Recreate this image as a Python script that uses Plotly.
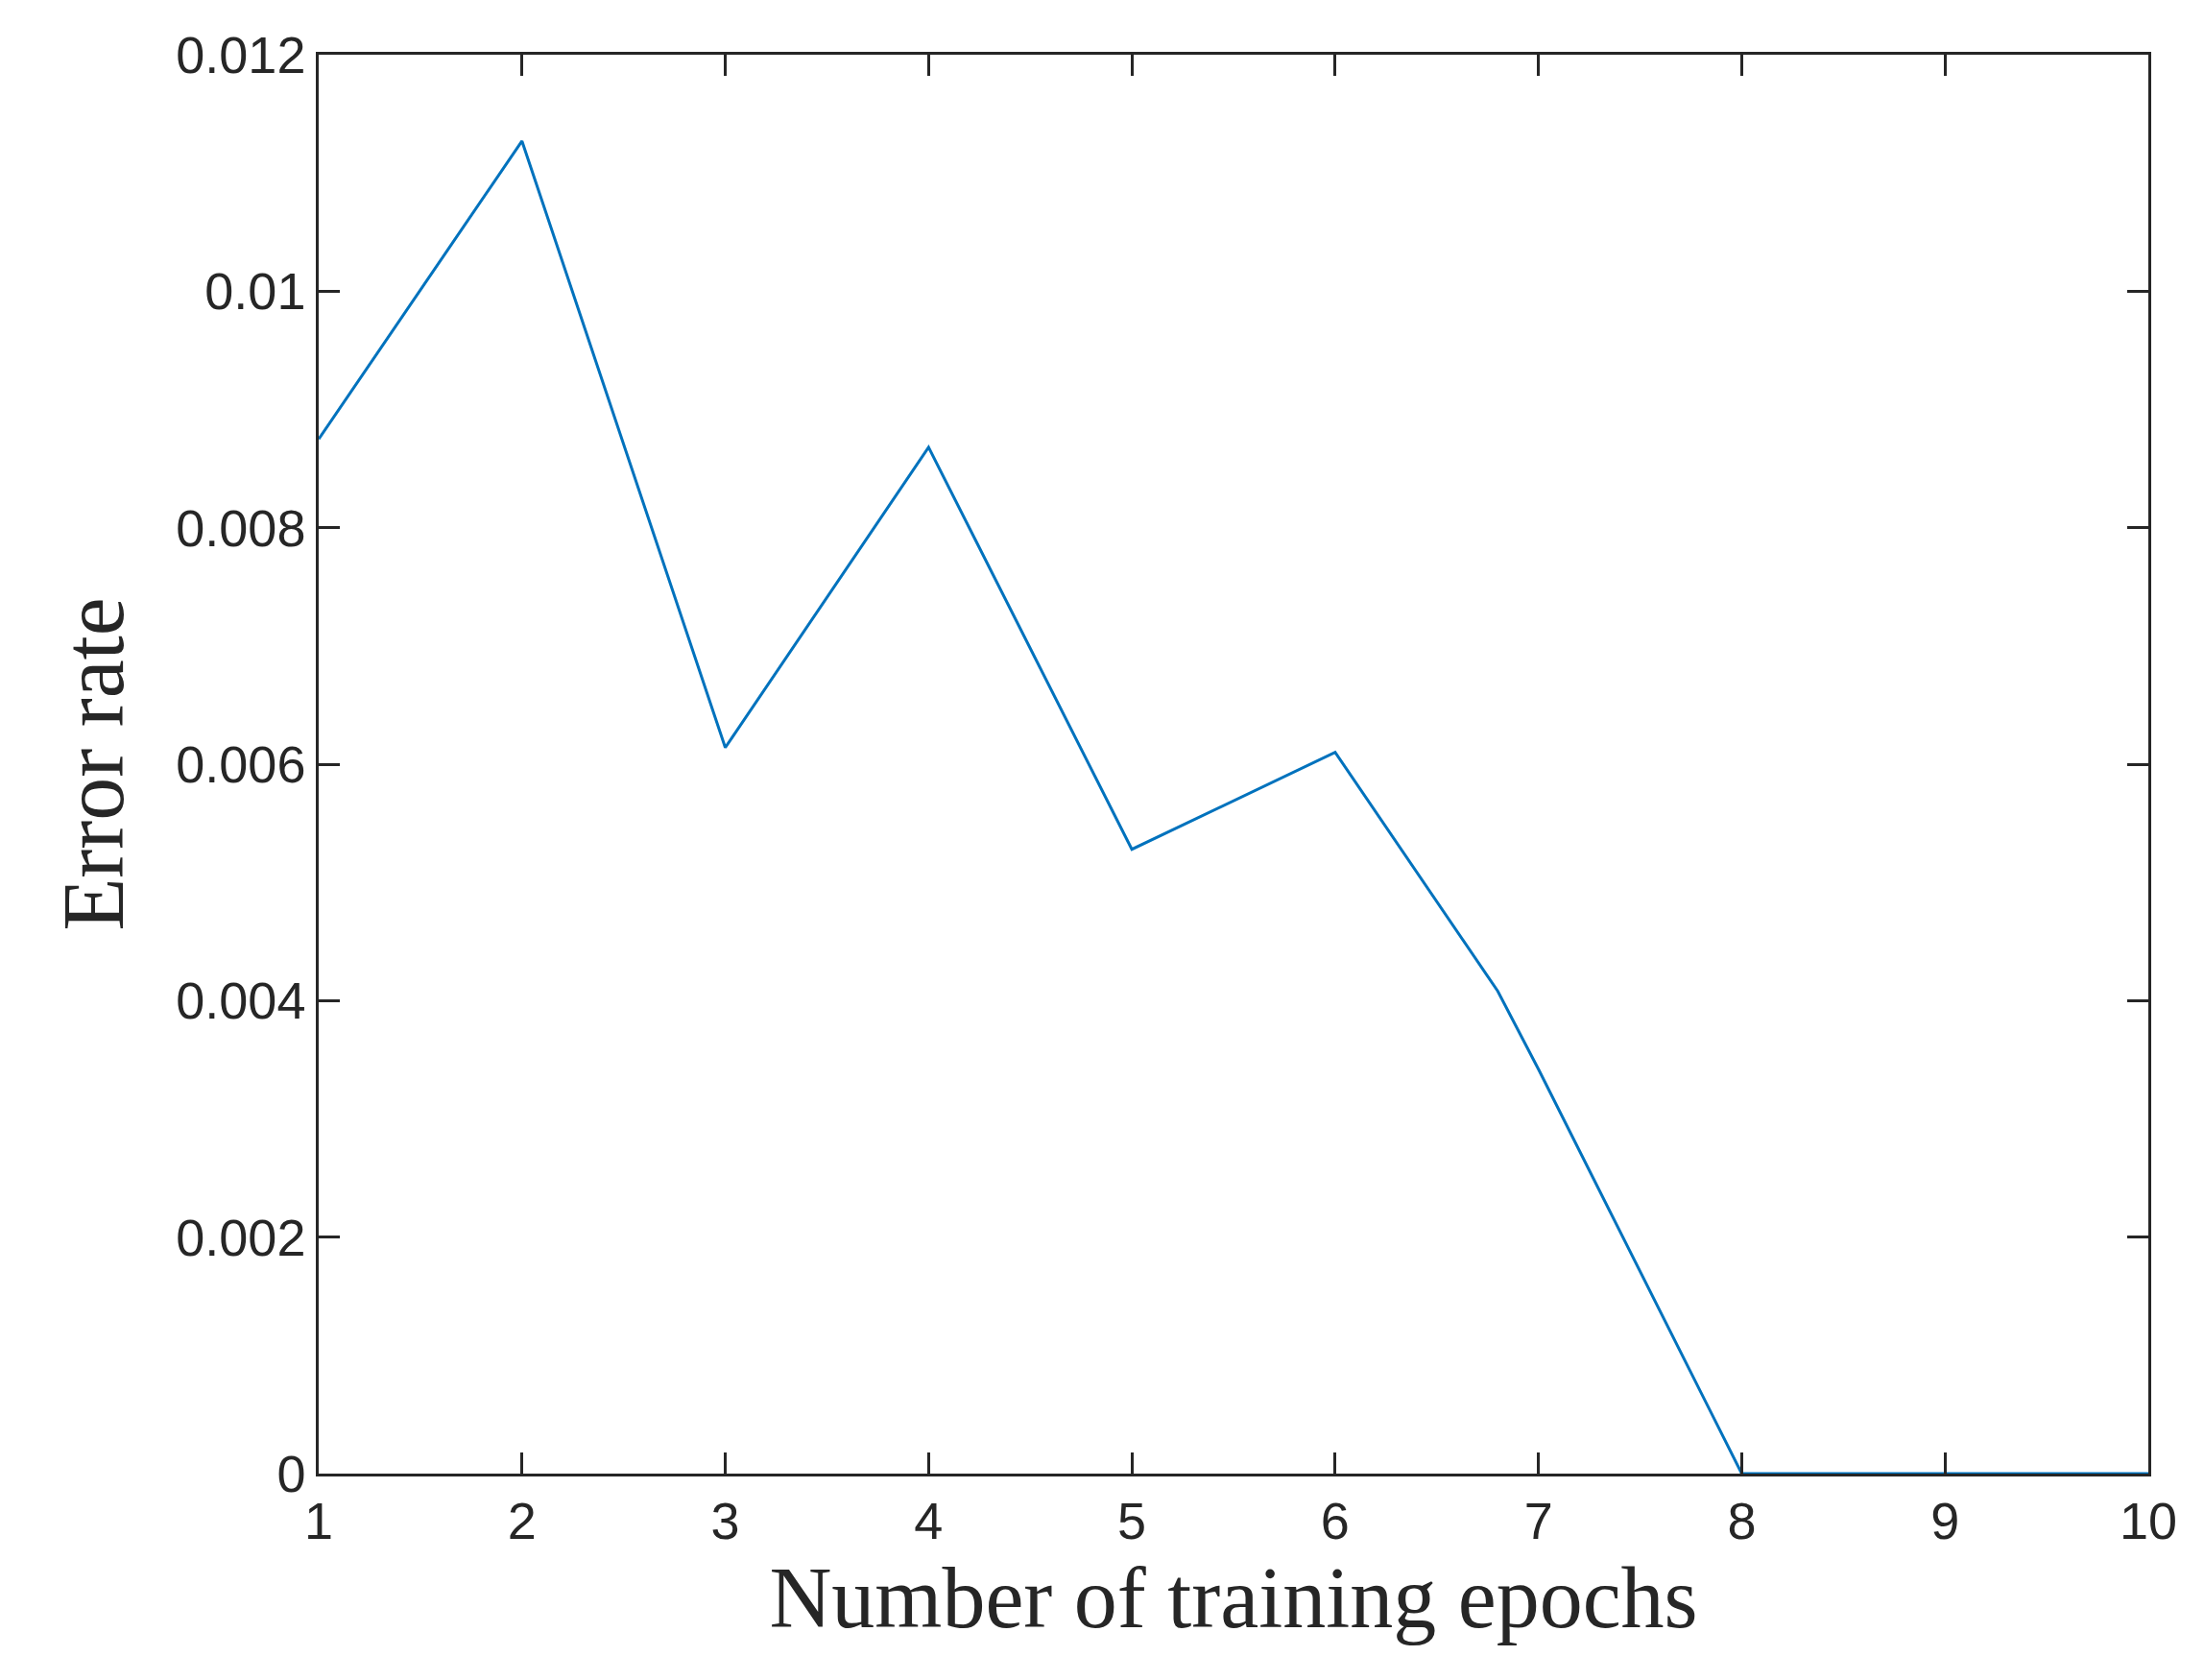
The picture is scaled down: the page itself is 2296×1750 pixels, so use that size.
import plotly.graph_objects as go

epochs = [1, 2, 3, 4, 5, 6, 6.8, 7, 8, 9, 10]
error_rate = [0.00875, 0.01127, 0.00614, 0.00868, 0.00528, 0.0061, 0.00408, 0.00342, 0, 0, 0]
x_ticks = list(range(1, 11))
y_ticks = [0, 0.002, 0.004, 0.006, 0.008, 0.01, 0.012]
y_labels = ["0", "0.002", "0.004", "0.006", "0.008", "0.01", "0.012"]

fig = go.Figure()
fig.add_trace(go.Scatter(x=epochs, y=error_rate, mode="lines",
                         line=dict(color="#0072BD", width=3), showlegend=False))

axis = dict(showline=True, linecolor="#262626", linewidth=2.5, mirror="ticks",
            ticks="inside", ticklen=22, tickwidth=2.5, tickcolor="#262626",
            showgrid=False, zeroline=False,
            tickfont=dict(family="Arial, Liberation Sans", size=54, color="#262626"))

fig.update_xaxes(**axis, range=[1, 10], tickvals=x_ticks,
                 title=dict(text="Number of training epochs", standoff=20,
                            font=dict(family="Liberation Serif, DejaVu Serif", size=90, color="#262626")))
fig.update_yaxes(**axis, range=[0, 0.012], tickvals=y_ticks, ticktext=y_labels,
                 title=dict(text="Error rate", standoff=25,
                            font=dict(family="Liberation Serif, DejaVu Serif", size=90, color="#262626")))

fig.update_layout(width=2296, height=1750, plot_bgcolor="white", paper_bgcolor="white",
                  margin=dict(l=324, r=66, t=49, b=223))
fig.write_html("out.html")
